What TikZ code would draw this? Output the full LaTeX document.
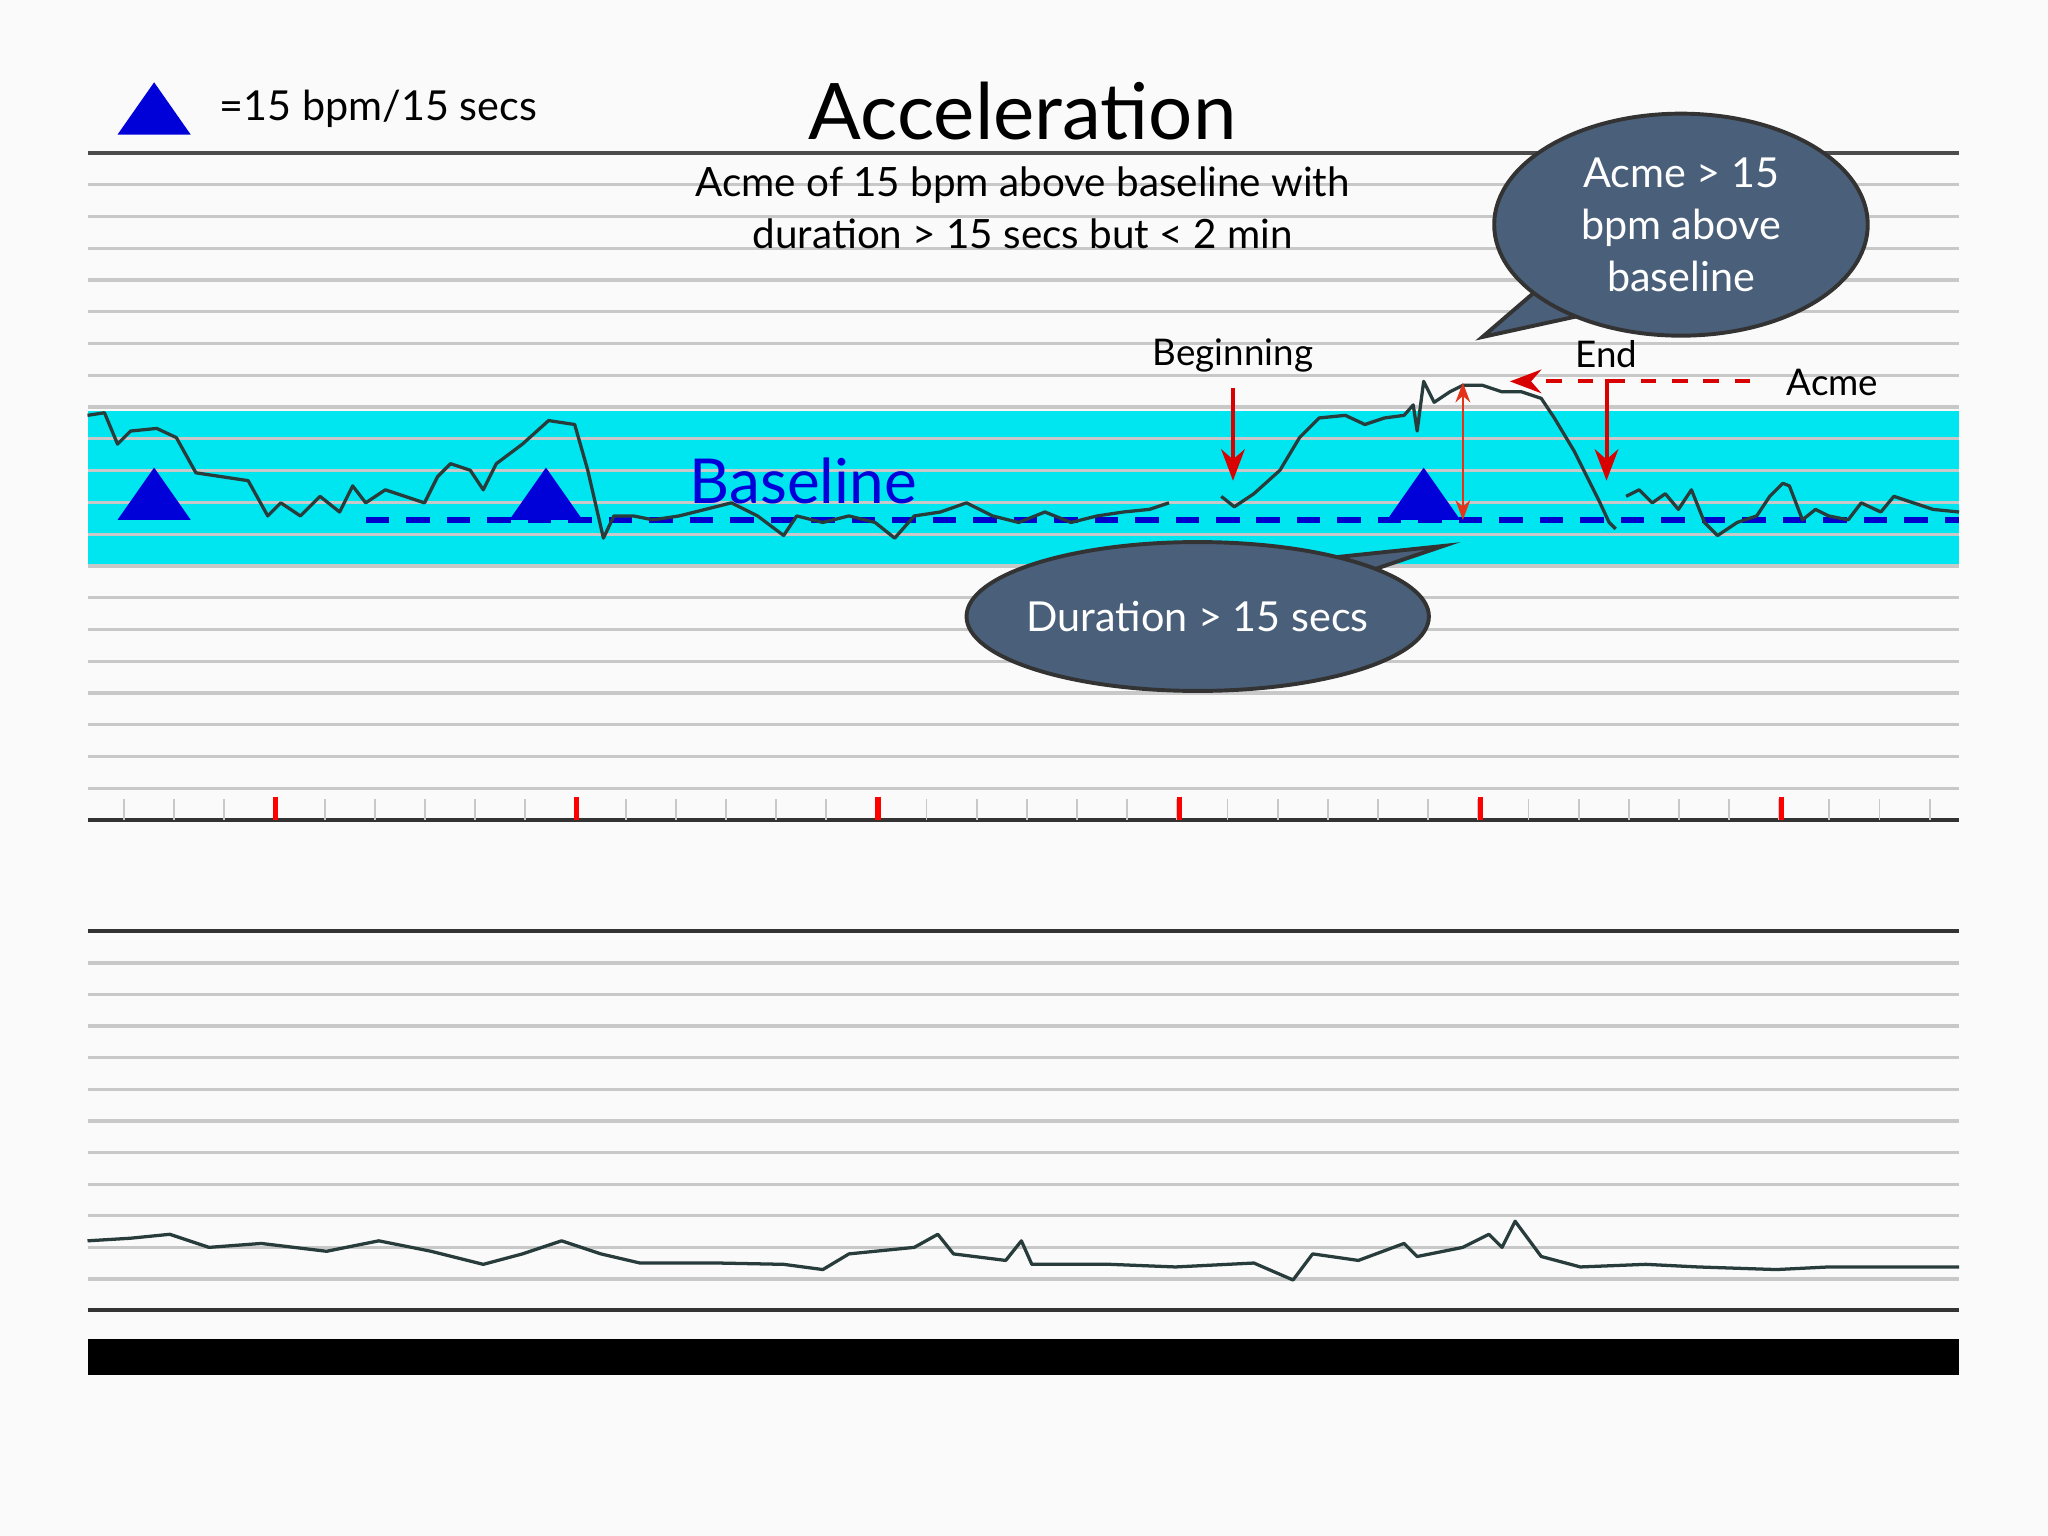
\documentclass[tikz,border=0pt]{standalone}
\usepackage{fontspec}
\setmainfont{Lato}
\usetikzlibrary{arrows.meta,shapes.geometric}
\definecolor{band}{RGB}{0,230,240}
\definecolor{grid}{RGB}{200,200,200}
\definecolor{slate}{RGB}{74,96,122}
\definecolor{trace}{RGB}{40,60,60}
\begin{document}
\begin{tikzpicture}[x=0.1mm,y=-0.1mm,>=Stealth,
  gridline/.style={grid,line width=0.25mm},
  mark tri/.style={fill=blue!85!black,draw=none},
  bubble/.style={fill=slate,draw=black!80,line width=0.3mm},
  bubbletext/.style={text=white,font=\fontsize{9}{11.3}\selectfont,align=center},
  lbl/.style={font=\fontsize{8}{10}\selectfont},
  redarrow/.style={red!85!black,line width=0.3mm,->}]
\useasboundingbox (0,0) rectangle (1568,1176);
\fill[black!2] (0,0) rectangle (1568,1176);
% cyan band and upper grid
\fill[band] (67,315) rectangle (1500,435);
\foreach \k in {1,...,20}
  \draw[gridline] (67,117+24.33*\k) -- (1500,117+24.33*\k);
\draw[black!70,line width=0.3mm] (67,117) -- (1500,117);
\draw[black!80,line width=0.3mm] (67,628) -- (1500,628);
\foreach \t in {0,...,36}
  \draw[grid] (95+38.4*\t,612) -- (95+38.4*\t,628);
\foreach \t in {0,...,5}
  \draw[red,line width=0.4mm] (211+230.6*\t,610) -- (211+230.6*\t,628);
% lower grid
\foreach \k in {1,...,11}
  \draw[gridline] (67,713+24.2*\k) -- (1500,713+24.2*\k);
\draw[black!80,line width=0.3mm] (67,713) -- (1500,713);
\draw[black!80,line width=0.3mm] (67,1003) -- (1500,1003);
\fill[black] (67,1025) rectangle (1500,1053);
% baseline
\draw[blue!80!black,line width=0.5mm,dash pattern=on 1.8mm off 1.3mm] (280,398) -- (1500,398);
% traces
\draw[trace,line width=0.25mm,line join=round] (67,318)--(80,316)--(90,340)--(100,330)--(120,328)--(135,335)--(150,362)--(170,365)--(190,368)--(205,395)--(215,385)--(230,395)--(245,380)--(260,392)--(270,372)--(280,385)--(295,375)--(310,380)--(325,385)--(335,365)--(345,355)--(360,360)--(370,375)--(380,355)--(400,340)--(420,322)--(440,325)--(450,360)--(462,412)--(470,395)--(485,395)--(500,398)--(520,395)--(540,390)--(560,385)--(580,395)--(600,410)--(610,395)--(630,400)--(650,395)--(670,400)--(685,412)--(700,395)--(720,392)--(740,385)--(760,395)--(780,400)--(800,392)--(820,400)--(840,395)--(860,392)--(880,390)--(895,385);
\draw[trace,line width=0.25mm,line join=round] (935,380)--(945,388)--(960,378)--(980,360)--(995,335)--(1010,320)--(1030,318)--(1045,325)--(1060,320)--(1075,318)--(1082,310)--(1085,330)--(1090,292)--(1098,308)--(1110,300)--(1120,295)--(1135,295)--(1150,300)--(1165,300)--(1180,305)--(1190,320)--(1205,345)--(1215,365)--(1225,385)--(1232,400)--(1237,405);
\draw[trace,line width=0.25mm,line join=round] (1245,380)--(1255,375)--(1265,385)--(1275,378)--(1285,390)--(1295,375)--(1305,400)--(1315,410)--(1330,400)--(1345,395)--(1355,380)--(1365,370)--(1370,372)--(1380,398)--(1390,390)--(1400,395)--(1415,398)--(1425,385)--(1440,392)--(1450,380)--(1465,385)--(1480,390)--(1500,392);
\draw[trace,line width=0.25mm,line join=round] (67,950)--(100,948)--(130,945)--(160,955)--(200,952)--(250,958)--(290,950)--(330,958)--(370,968)--(400,960)--(430,950)--(460,960)--(490,967)--(550,967)--(600,968)--(630,972)--(650,960)--(700,955)--(718,945)--(730,960)--(770,965)--(782,950)--(790,968)--(850,968)--(900,970)--(960,967)--(990,980)--(1005,960)--(1040,965)--(1075,952)--(1085,962)--(1120,955)--(1140,945)--(1150,955)--(1160,935)--(1180,962)--(1210,970)--(1260,968)--(1300,970)--(1360,972)--(1400,970)--(1500,970);
% triangles
\foreach \x/\y in {118/83,118/378,418/378,1090/378}
  \fill[mark tri] (\x-28,\y+20) -- (\x,\y-20) -- (\x+28,\y+20) -- cycle;
% texts
\node[font=\fontsize{9}{12}\selectfont,anchor=west] (legend) at (156,83) {=15 bpm/15 secs};
\node[font=\fontsize{17}{20}\selectfont] (title) at (783,85) {Acceleration};
\node[font=\fontsize{8.8}{11.3}\selectfont,align=center] (def) at (783,159) {Acme of 15 bpm above baseline with\\duration > 15 secs but < 2 min};
\node[font=\fontsize{13.5}{16}\selectfont,text=blue!85!black] (base) at (615,368) {Baseline};
\node[lbl] (begin) at (944,272) {Beginning};
\node[lbl] (end) at (1230,271) {End};
\node[lbl] (acme) at (1403,293) {Acme};
% arrows
\coordinate (beginpt) at (944,368);
\coordinate (endpt) at (1230,368);
\coordinate (acmept) at (1156,292);
\coordinate (acmetop) at (1120,293);
\coordinate (acmebase) at (1120,398);
\draw[redarrow] (begin.south) -- (beginpt);
\draw[redarrow] (1230,290) -- (endpt);
\draw[redarrow,dash pattern=on 1.2mm off 1.2mm] (1340,292) -- (acmept);
\draw[red!60!brown,line width=0.2mm,<->,>={Stealth[length=1.5mm]}] (acmetop) -- (acmebase);
% bubbles
\fill[bubble] (1185,215) -- (1135,258) -- (1240,235) -- cycle;
\node[bubble,ellipse,inner sep=0pt,minimum width=28.6mm,minimum height=17mm] (acmebub) at (1287,172) {};
\node[bubbletext] at (acmebub) {Acme > 15\\bpm above\\baseline};
\fill[bubble] (1040,440) -- (1105,418) -- (990,430) -- cycle;
\node[bubble,ellipse,inner sep=0pt,minimum width=35.4mm,minimum height=11.4mm] (durbub) at (917,472) {};
\node[bubbletext] at (durbub) {Duration > 15 secs};
\end{tikzpicture}
\end{document}
